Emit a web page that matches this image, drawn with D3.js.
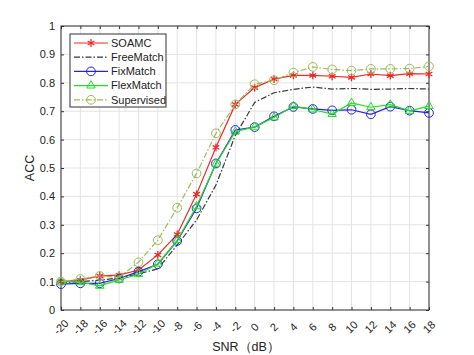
<!DOCTYPE html>
<html>
<head>
<meta charset="utf-8">
<script src="https://cdn.jsdelivr.net/npm/d3@7"></script>
<style>
  body { margin: 0; background: #fff; }
  svg { display: block; font-family: "Liberation Sans", Arial, sans-serif; }
</style>
</head>
<body>
<div id="chart"></div>
<script>
// data
const snr = [-20, -18, -16, -14, -12, -10, -8, -6, -4, -2, 0, 2, 4, 6, 8, 10, 12, 14, 16, 18];
const soamc      = [0.100, 0.105, 0.120, 0.123, 0.141, 0.194, 0.266, 0.408, 0.573, 0.724, 0.783, 0.813, 0.826, 0.826, 0.823, 0.819, 0.831, 0.825, 0.832, 0.831];
const freeMatch  = [0.095, 0.100, 0.105, 0.113, 0.127, 0.145, 0.229, 0.317, 0.440, 0.615, 0.731, 0.765, 0.777, 0.785, 0.778, 0.780, 0.777, 0.778, 0.780, 0.778];
const fixMatch   = [0.091, 0.094, 0.094, 0.111, 0.135, 0.161, 0.243, 0.358, 0.516, 0.634, 0.644, 0.682, 0.715, 0.708, 0.703, 0.705, 0.689, 0.716, 0.702, 0.694];
const flexMatch  = [0.100, 0.098, 0.085, 0.106, 0.126, 0.163, 0.245, 0.365, 0.515, 0.628, 0.645, 0.678, 0.718, 0.706, 0.690, 0.729, 0.714, 0.723, 0.701, 0.718];
const supervised = [0.100, 0.109, 0.120, 0.115, 0.168, 0.246, 0.360, 0.481, 0.622, 0.724, 0.795, 0.809, 0.836, 0.856, 0.847, 0.843, 0.849, 0.849, 0.850, 0.858];
const yTicks = [0, 0.1, 0.2, 0.3, 0.4, 0.5, 0.6, 0.7, 0.8, 0.9, 1];

const series = [
  { name: "SOAMC", values: soamc, color: "#f02828", dash: null, marker: "asterisk" },
  { name: "FreeMatch", values: freeMatch, color: "#383838", dash: "6,2,1.5,2", marker: null },
  { name: "FixMatch", values: fixMatch, color: "#2424e0", dash: null, marker: "circle" },
  { name: "FlexMatch", values: flexMatch, color: "#22dd22", dash: null, marker: "triangle" },
  { name: "Supervised", values: supervised, color: "#9abb5a", dash: "6,2,1.5,2", marker: "circle" }
];

const width = 474, height = 355;
const margin = { top: 26, right: 45, bottom: 45, left: 61 };

const svg = d3.select("#chart").append("svg")
  .attr("width", width)
  .attr("height", height);

const x = d3.scaleLinear().domain([-20, 18]).range([margin.left, width - margin.right]);
const y = d3.scaleLinear().domain([0, 1]).range([height - margin.bottom, margin.top]);

// grid
svg.append("g")
  .selectAll("line")
  .data(snr)
  .join("line")
  .attr("x1", d => x(d)).attr("x2", d => x(d))
  .attr("y1", y(0)).attr("y2", y(1))
  .attr("stroke", "#e3e3e3");
svg.append("g")
  .selectAll("line")
  .data(yTicks)
  .join("line")
  .attr("x1", x(-20)).attr("x2", x(18))
  .attr("y1", d => y(d)).attr("y2", d => y(d))
  .attr("stroke", "#e3e3e3");

// axes (ticks inward, MATLAB style)
const axisStyle = g => {
  g.select(".domain").remove();
  g.selectAll(".tick line").attr("stroke", "#333");
};
svg.append("g")
  .attr("transform", `translate(0,${y(0)})`)
  .call(d3.axisBottom(x).tickValues(snr).tickSize(-3).tickFormat(""))
  .call(axisStyle);
svg.append("g")
  .attr("transform", `translate(0,${y(1)})`)
  .call(d3.axisTop(x).tickValues(snr).tickSize(-3).tickFormat(""))
  .call(axisStyle);
svg.append("g")
  .attr("transform", `translate(${x(-20)},0)`)
  .call(d3.axisLeft(y).tickValues(yTicks).tickSize(-3).tickPadding(6).tickFormat(d3.format("~g")))
  .call(axisStyle)
  .call(g => g.selectAll("text").attr("font-size", 11).attr("fill", "#222").attr("font-family", "Liberation Sans, Arial, sans-serif"));
svg.append("g")
  .attr("transform", `translate(${x(18)},0)`)
  .call(d3.axisRight(y).tickValues(yTicks).tickSize(-3).tickFormat(""))
  .call(axisStyle);

// rotated x labels
svg.append("g")
  .selectAll("text")
  .data(snr)
  .join("text")
  .attr("transform", d => `translate(${x(d)},${y(0) + 17}) rotate(-45)`)
  .attr("text-anchor", "middle")
  .attr("dy", "0.35em")
  .attr("font-size", 11)
  .attr("fill", "#222")
  .text(d => d);

// frame
svg.append("rect")
  .attr("x", x(-20)).attr("y", y(1))
  .attr("width", x(18) - x(-20)).attr("height", y(0) - y(1))
  .attr("fill", "none").attr("stroke", "#333").attr("stroke-width", 1);

// axis titles
svg.append("text")
  .attr("x", (x(-20) + x(18)) / 2 + 1)
  .attr("y", 351)
  .attr("text-anchor", "middle")
  .attr("font-size", 12.5)
  .attr("fill", "#222")
  .text("SNR（dB）");
svg.append("text")
  .attr("transform", `translate(34,${y(0.5)}) rotate(-90)`)
  .attr("text-anchor", "middle")
  .attr("font-size", 12.5)
  .attr("fill", "#222")
  .text("ACC");

const symbolFor = m => m === "asterisk" ? d3.symbol(d3.symbolAsterisk, 42)
  : m === "triangle" ? d3.symbol(d3.symbolTriangle2, 50)
  : d3.symbol(d3.symbolCircle, 60);

const line = d3.line().x((d, i) => x(snr[i])).y(d => y(d));

// series
series.forEach(s => {
  const g = svg.append("g");
  g.append("path")
    .attr("d", line(s.values))
    .attr("fill", "none")
    .attr("stroke", s.color)
    .attr("stroke-width", 1.2)
    .attr("stroke-dasharray", s.dash);
  if (s.marker) {
    g.selectAll("path.m")
      .data(s.values)
      .join("path")
      .attr("class", "m")
      .attr("transform", (d, i) => `translate(${x(snr[i])},${y(d)})`)
      .attr("d", symbolFor(s.marker))
      .attr("fill", "none")
      .attr("stroke", s.color)
      .attr("stroke-width", s.marker === "asterisk" ? 1.3 : 1);
  }
});

// legend
const lg = svg.append("g").attr("transform", "translate(70,34)");
lg.append("rect")
  .attr("width", 96).attr("height", 73)
  .attr("fill", "#fff").attr("stroke", "#333");
series.forEach((s, i) => {
  const yy = 9 + i * 14.2;
  lg.append("line")
    .attr("x1", 4).attr("x2", 38).attr("y1", yy).attr("y2", yy)
    .attr("stroke", s.color).attr("stroke-width", 1.2)
    .attr("stroke-dasharray", s.dash);
  if (s.marker) {
    lg.append("path")
      .attr("transform", `translate(21,${yy})`)
      .attr("d", symbolFor(s.marker))
      .attr("fill", "none").attr("stroke", s.color)
      .attr("stroke-width", s.marker === "asterisk" ? 1.3 : 1);
  }
  lg.append("text")
    .attr("x", 41).attr("y", yy)
    .attr("dy", "0.35em")
    .attr("font-size", 11)
    .attr("fill", "#222")
    .text(s.name);
});
</script>
</body>
</html>
